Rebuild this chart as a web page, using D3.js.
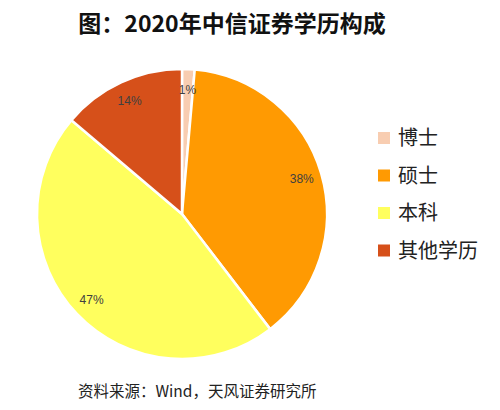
<!DOCTYPE html>
<html>
<head>
<meta charset="utf-8">
<script src="https://cdn.jsdelivr.net/npm/d3@7"></script>
<style>
  body { margin: 0; background: #fff; }
  text { font-family: "Noto Sans CJK SC", sans-serif; }
</style>
</head>
<body>
<div id="chart"></div>
<script>
// data
var categories = ["博士", "硕士", "本科", "其他学历"];
var shares = [1.4, 38.2, 46.6, 13.8];
var colors = ["#F8CDB1", "#FF9A02", "#FFFF5E", "#D6501A"];

var svgWidth = 500;
var svgHeight = 410;

var svg = d3.select("#chart")
  .append("svg")
  .attr("width", svgWidth)
  .attr("height", svgHeight);

// title
svg.append("text")
  .attr("x", 232)
  .attr("y", 32)
  .attr("text-anchor", "middle")
  .attr("font-size", "23px")
  .attr("font-weight", "bold")
  .attr("fill", "#111")
  .text("图：2020年中信证券学历构成");

var radius = 145;
var pieGroup = svg.append("g")
  .attr("transform", "translate(182, 214)");

var total = d3.sum(shares);
var pie = d3.pie().sort(null);
var arcs = pie(shares);

var arc = d3.arc().innerRadius(0).outerRadius(radius);
var labelArc = d3.arc().innerRadius(radius * 0.86).outerRadius(radius * 0.86);

var color = d3.scaleOrdinal().domain(categories).range(colors);

pieGroup.selectAll("path")
  .data(arcs)
  .enter()
  .append("path")
  .attr("d", arc)
  .attr("fill", (d, i) => color(categories[i]))
  .attr("stroke", "#fff")
  .attr("stroke-width", 2.5);

pieGroup.selectAll(".lbl")
  .data(arcs)
  .enter()
  .append("text")
  .attr("class", "lbl")
  .attr("transform", d => `translate(${labelArc.centroid(d)})`)
  .attr("text-anchor", "middle")
  .attr("dy", "0.35em")
  .attr("font-family", "'Liberation Sans', Arial, sans-serif")
  .style("font-family", "'Liberation Sans', Arial, sans-serif")
  .attr("font-size", "12px")
  .attr("fill", "#404040")
  .text(d => d3.format(".0%")(d.data / total));

// legend
var legend = svg.append("g")
  .attr("transform", "translate(378, 138)");

var rows = legend.selectAll("g")
  .data(categories)
  .enter()
  .append("g")
  .attr("transform", (d, i) => `translate(0, ${i * 37.5})`);

rows.append("rect")
  .attr("x", 0)
  .attr("y", -6)
  .attr("width", 12)
  .attr("height", 12)
  .attr("fill", d => color(d));

rows.append("text")
  .attr("x", 20)
  .attr("y", 0)
  .attr("dy", "0.35em")
  .attr("font-size", "20px")
  .attr("fill", "#222")
  .text(d => d);

// source note
svg.append("text")
  .attr("x", 78)
  .attr("y", 397)
  .attr("font-size", "15.5px")
  .attr("fill", "#222")
  .text("资料来源：Wind，天风证券研究所");
</script>
</body>
</html>
